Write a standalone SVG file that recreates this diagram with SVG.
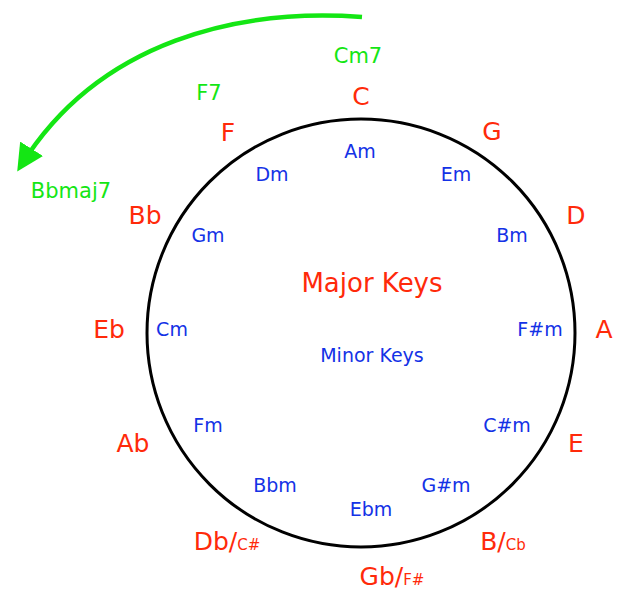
<svg xmlns="http://www.w3.org/2000/svg" width="627" height="608" viewBox="0 0 627 608">
<style>
text{font-family:"DejaVu Sans",Verdana,sans-serif;text-anchor:middle}
.maj{fill:#ff2a0a;font-size:25px}
.min{fill:#1432e6;font-size:19px}
.g{fill:#14e614;font-size:21px}
.s{font-size:15px}
</style>
<defs><marker id="ah" markerWidth="6" markerHeight="6" refX="4" refY="3" orient="auto" markerUnits="strokeWidth"><path d="M0,0 L6,3 L0,6 z" fill="#14e614"/></marker></defs>
<rect width="627" height="608" fill="#fff"/>
<g id="connectors"><path d="M362,17 C240,8 100,40 22,164" fill="none" stroke="#14e614" stroke-width="4.5" marker-end="url(#ah)"/></g>
<g id="circle"><circle cx="361" cy="333" r="214" fill="none" stroke="#000" stroke-width="3"/></g>
<g id="major">
<text class="maj" x="361" y="105">C</text>
<text class="maj" x="492" y="140">G</text>
<text class="maj" x="576" y="224">D</text>
<text class="maj" x="604" y="338">A</text>
<text class="maj" x="576" y="452">E</text>
<text class="maj" x="503" y="550">B/<tspan class="s">Cb</tspan></text>
<text class="maj" x="392" y="585">Gb/<tspan class="s">F#</tspan></text>
<text class="maj" x="227" y="550">Db/<tspan class="s">C#</tspan></text>
<text class="maj" x="133" y="452">Ab</text>
<text class="maj" x="109" y="338">Eb</text>
<text class="maj" x="145" y="224">Bb</text>
<text class="maj" x="228" y="141">F</text>
</g>
<g id="minor">
<text class="min" x="360" y="158">Am</text>
<text class="min" x="456" y="181">Em</text>
<text class="min" x="512" y="242">Bm</text>
<text class="min" x="540" y="336">F#m</text>
<text class="min" x="507" y="432">C#m</text>
<text class="min" x="446" y="492">G#m</text>
<text class="min" x="371" y="516">Ebm</text>
<text class="min" x="275" y="492">Bbm</text>
<text class="min" x="208" y="432">Fm</text>
<text class="min" x="172" y="336">Cm</text>
<text class="min" x="208" y="242">Gm</text>
<text class="min" x="272" y="181">Dm</text>
</g>
<g id="center">
<text class="maj" x="372" y="292" style="font-size:26px">Major Keys</text>
<text class="min" x="372" y="362">Minor Keys</text>
</g>
<g id="green">
<text class="g" x="358" y="63">Cm7</text>
<text class="g" x="209" y="100">F7</text>
<text class="g" x="71" y="198">Bbmaj7</text>
</g>
</svg>
